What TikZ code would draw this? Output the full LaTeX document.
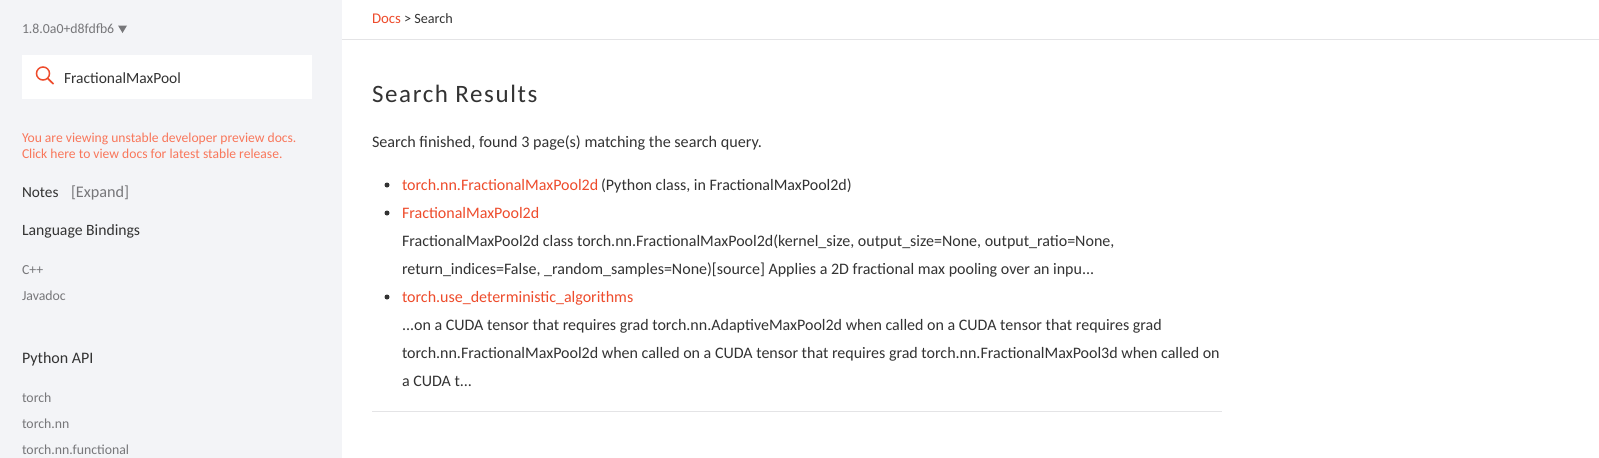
\documentclass[tikz,border=0pt]{standalone}
\usepackage{fontspec}
\setmainfont{Carlito}
\newfontfamily\headfont[LetterSpace=6.5]{Carlito}
\usetikzlibrary{positioning}
\definecolor{sidebar}{HTML}{F3F4F7}
\definecolor{rulegray}{HTML}{E4E4E6}
\definecolor{inktext}{HTML}{333333}
\definecolor{navgray}{HTML}{77777A}
\definecolor{linkred}{HTML}{EE4C2C}
\definecolor{warnred}{HTML}{F9775B}

\begin{document}
\begin{tikzpicture}[
    x=1pt, y=-1pt,
    every node/.style={inner sep=0pt, outer sep=0pt, anchor=base west, text=inktext, font=\fontsize{16}{20}\selectfont},
    navtext/.style={text=navgray, font=\fontsize{13.8}{18}\selectfont},
    warntext/.style={text=warnred, font=\fontsize{13.6}{18}\selectfont},
    linktext/.style={text=linkred},
    crumbtext/.style={font=\fontsize{14.2}{18}\selectfont},
    bulletdot/.style={circle, fill=inktext, minimum size=5pt, anchor=center}
]
    \useasboundingbox (0,0) rectangle (1599,458);

    % Panels
    \fill[white] (0,0) rectangle (1599,458);
    \fill[sidebar] (0,0) rectangle (342,458);
    \fill[white] (22,55) rectangle (312,99);
    \draw[rulegray, line width=1pt] (342,39.5) -- (1599,39.5);
    \draw[rulegray, line width=1pt] (372,411.5) -- (1222,411.5);

    % Sidebar
    \node[navtext] (version) at (22,33) {1.8.0a0+d8fdfb6};
    \fill[navgray] (118,25.5) -- (127,25.5) -- (122.5,33) -- cycle;
    \draw[linkred, line width=1.5pt] (43,73.5) circle (6.5);
    \draw[linkred, line width=1.7pt] (47.8,78.5) -- (53.5,84);
    \node[font=\fontsize{15.5}{18}\selectfont] (query) at (64,83) {FractionalMaxPool};
    \node[warntext] (warnA) at (22,142) {You are viewing unstable developer preview docs.};
    \node[warntext] (warnB) at (22,158) {Click here to view docs for latest stable release.};
    \node[font=\fontsize{15.3}{18}\selectfont] (notes) at (22,197) {Notes};
    \node[navtext, font=\fontsize{16.2}{18}\selectfont] (expand) at (71,197) {[Expand]};
    \node[font=\fontsize{15.7}{18}\selectfont] (bindings) at (22,235) {Language Bindings};
    \node[navtext] (cpp) at (22,274) {C++};
    \node[navtext] (javadoc) at (22,300) {Javadoc};
    \node (python) at (22,363) {Python API};
    \node[navtext] (torch) at (22,402) {torch};
    \node[navtext] (torchnn) at (22,428) {torch.nn};
    \node[navtext] (functional) at (22,454) {torch.nn.functional};

    % Header
    \node[crumbtext, text=linkred, font=\fontsize{14.8}{18}\selectfont] (docs) at (372,23) {Docs};
    \node[crumbtext] (crumb) at (404,23) {> Search};
    \node[font=\fontsize{25}{30}\selectfont\headfont] (title) at (372,102) {Search Results};
    \node[font=\fontsize{16.13}{20}\selectfont] (found) at (372,147) {Search finished, found 3 page(s) matching the search query.};

    % Results
    \node[bulletdot] (dotA) at (387,185) {};
    \node[bulletdot] (dotB) at (387,213) {};
    \node[bulletdot] (dotC) at (387,297) {};
    \node[linktext] (hitA) at (402,190) {torch.nn.FractionalMaxPool2d};
    \node (hitAnote) at (601,190) {(Python class, in FractionalMaxPool2d)};
    \node[linktext] (hitB) at (402,218) {FractionalMaxPool2d};
    \node (lineA) at (402,246) {FractionalMaxPool2d class torch.nn.FractionalMaxPool2d(kernel\_size, output\_size=None, output\_ratio=None,};
    \node (lineB) at (402,274) {return\_indices=False, \_random\_samples=None)[source] Applies a 2D fractional max pooling over an inpu...};
    \node[linktext] (hitC) at (402,302) {torch.use\_deterministic\_algorithms};
    \node (lineC) at (402,330) {...on a CUDA tensor that requires grad torch.nn.AdaptiveMaxPool2d when called on a CUDA tensor that requires grad};
    \node (lineD) at (402,358) {torch.nn.FractionalMaxPool2d when called on a CUDA tensor that requires grad torch.nn.FractionalMaxPool3d when called on};
    \node (lineE) at (402,386) {a CUDA t...};
\end{tikzpicture}
\end{document}
